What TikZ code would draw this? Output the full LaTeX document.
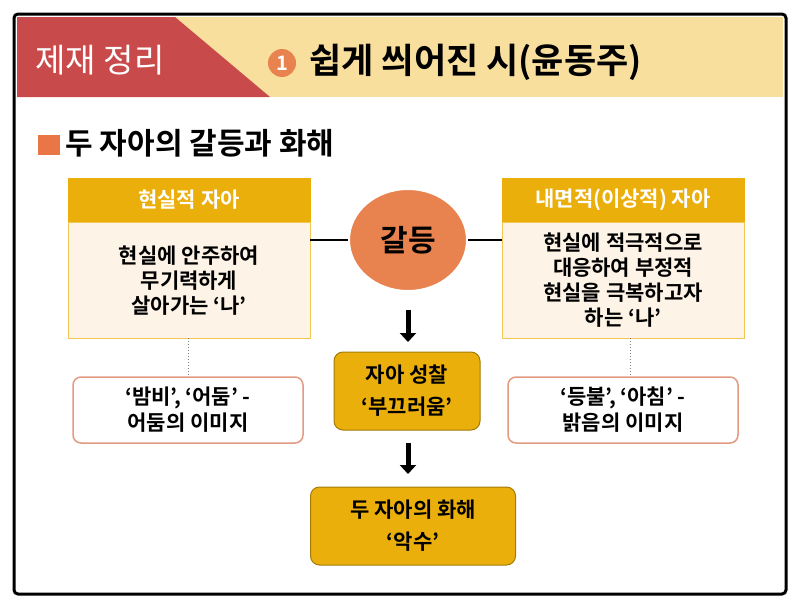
\documentclass[tikz,border=0pt]{standalone}
\usepackage{fontspec}
\setmainfont{Noto Sans CJK KR}[BoldFont={* Bold}]
\usetikzlibrary{shapes.geometric,arrows.meta}
\definecolor{hred}{HTML}{C94A4A}
\definecolor{hbeige}{HTML}{F8DF9E}
\definecolor{gold}{HTML}{EBAF0C}
\definecolor{cream}{HTML}{FDF3E6}
\definecolor{ora}{HTML}{E8834F}
\definecolor{pinkb}{HTML}{E29A80}
\begin{document}
\begin{tikzpicture}[x=1pt,y=-1pt,
  hdr/.style={fill=gold,draw=gold,minimum width=242pt,minimum height=44pt,text=white,font=\bfseries\fontsize{21}{24}\selectfont},
  body/.style={fill=cream,draw=gold!70,minimum width=242pt,minimum height=116pt,inner sep=2pt,align=center,font=\bfseries\fontsize{21}{25}\selectfont},
  small/.style={draw=pinkb,line width=1.5pt,rounded corners=8pt,fill=white,minimum width=230pt,minimum height=66pt,inner sep=2pt,align=center,font=\bfseries\fontsize{21}{26}\selectfont},
  goldbox/.style={fill=gold,draw=gold!70!black,line width=1pt,rounded corners=9pt,inner sep=2pt,align=center,font=\bfseries\fontsize{21}{32}\selectfont},
  darr/.style={-{Triangle[length=9pt,width=16pt]},line width=5pt}]
\useasboundingbox (0,0) rectangle (800,608);
\fill[white] (0,0) rectangle (800,608);
\fill[hbeige] (17,17) rectangle (783,97);
\fill[hred] (17,17) -- (175,17) -- (270,97) -- (17,97) -- cycle;
\draw[line width=3pt,rounded corners=4pt] (14,14) rectangle (786,594);
\node[text=white,font=\fontsize{33}{36}\selectfont] (t1) at (100,60) {제재 정리};
\node[circle,fill=ora,minimum size=28pt,inner sep=0,text=white,font=\bfseries\fontsize{20}{22}\selectfont] (c1) at (282,63) {1};
\node[anchor=west,font=\bfseries\fontsize{35}{38}\selectfont] (t2) at (306,62) {쉽게 씌어진 시(윤동주)};
\fill[ora!90!red] (38,135) rectangle (60,155);
\node[anchor=west,font=\bfseries\fontsize{30}{33}\selectfont] (h) at (62,143) {두 자아의 갈등과 화해};
\node[hdr] (lh) at (189,200) {현실적 자아};
\node[body,anchor=north] (lb) at (lh.south) {현실에 안주하여\\무기력하게\\살아가는 ‘나’};
\node[hdr] (rh) at (623,200) {내면적(이상적) 자아};
\node[body,anchor=north] (rb) at (rh.south) {현실에 적극적으로\\대응하여 부정적\\현실을 극복하고자\\하는 ‘나’};
\node[ellipse,fill=ora,draw=white,line width=2pt,minimum width=118pt,minimum height=102pt,font=\bfseries\fontsize{30}{33}\selectfont] (g) at (408,240) {갈등};
\draw[line width=1.5pt] (lb.north east |- g.center) -- (g.west);
\draw[line width=1.5pt] (g.east) -- (rb.north west |- g.center);
\coordinate (a1) at (408,310); \coordinate (a2) at (408,342);
\draw[darr] (a1) -- (a2);
\node[goldbox,minimum width=146pt,minimum height=78pt] (s) at (407,391) {자아 성찰\\‘부끄러움’};
\coordinate (a3) at (408,443); \coordinate (a4) at (408,474);
\draw[darr] (a3) -- (a4);
\node[goldbox,minimum width=205pt,minimum height=78pt] (r) at (413,526) {두 자아의 화해\\‘악수’};
\node[small] (ls) at (188,410) {‘밤비’, ‘어둠’ -\\어둠의 이미지};
\node[small] (rs) at (623,410) {‘등불’, ‘아침’ -\\밝음의 이미지};
\draw[dotted,gray,line width=1pt] (188,338) -- (ls.north);
\draw[dotted,gray,line width=1pt] (630,338) -- (630,377);
\end{tikzpicture}
\end{document}
